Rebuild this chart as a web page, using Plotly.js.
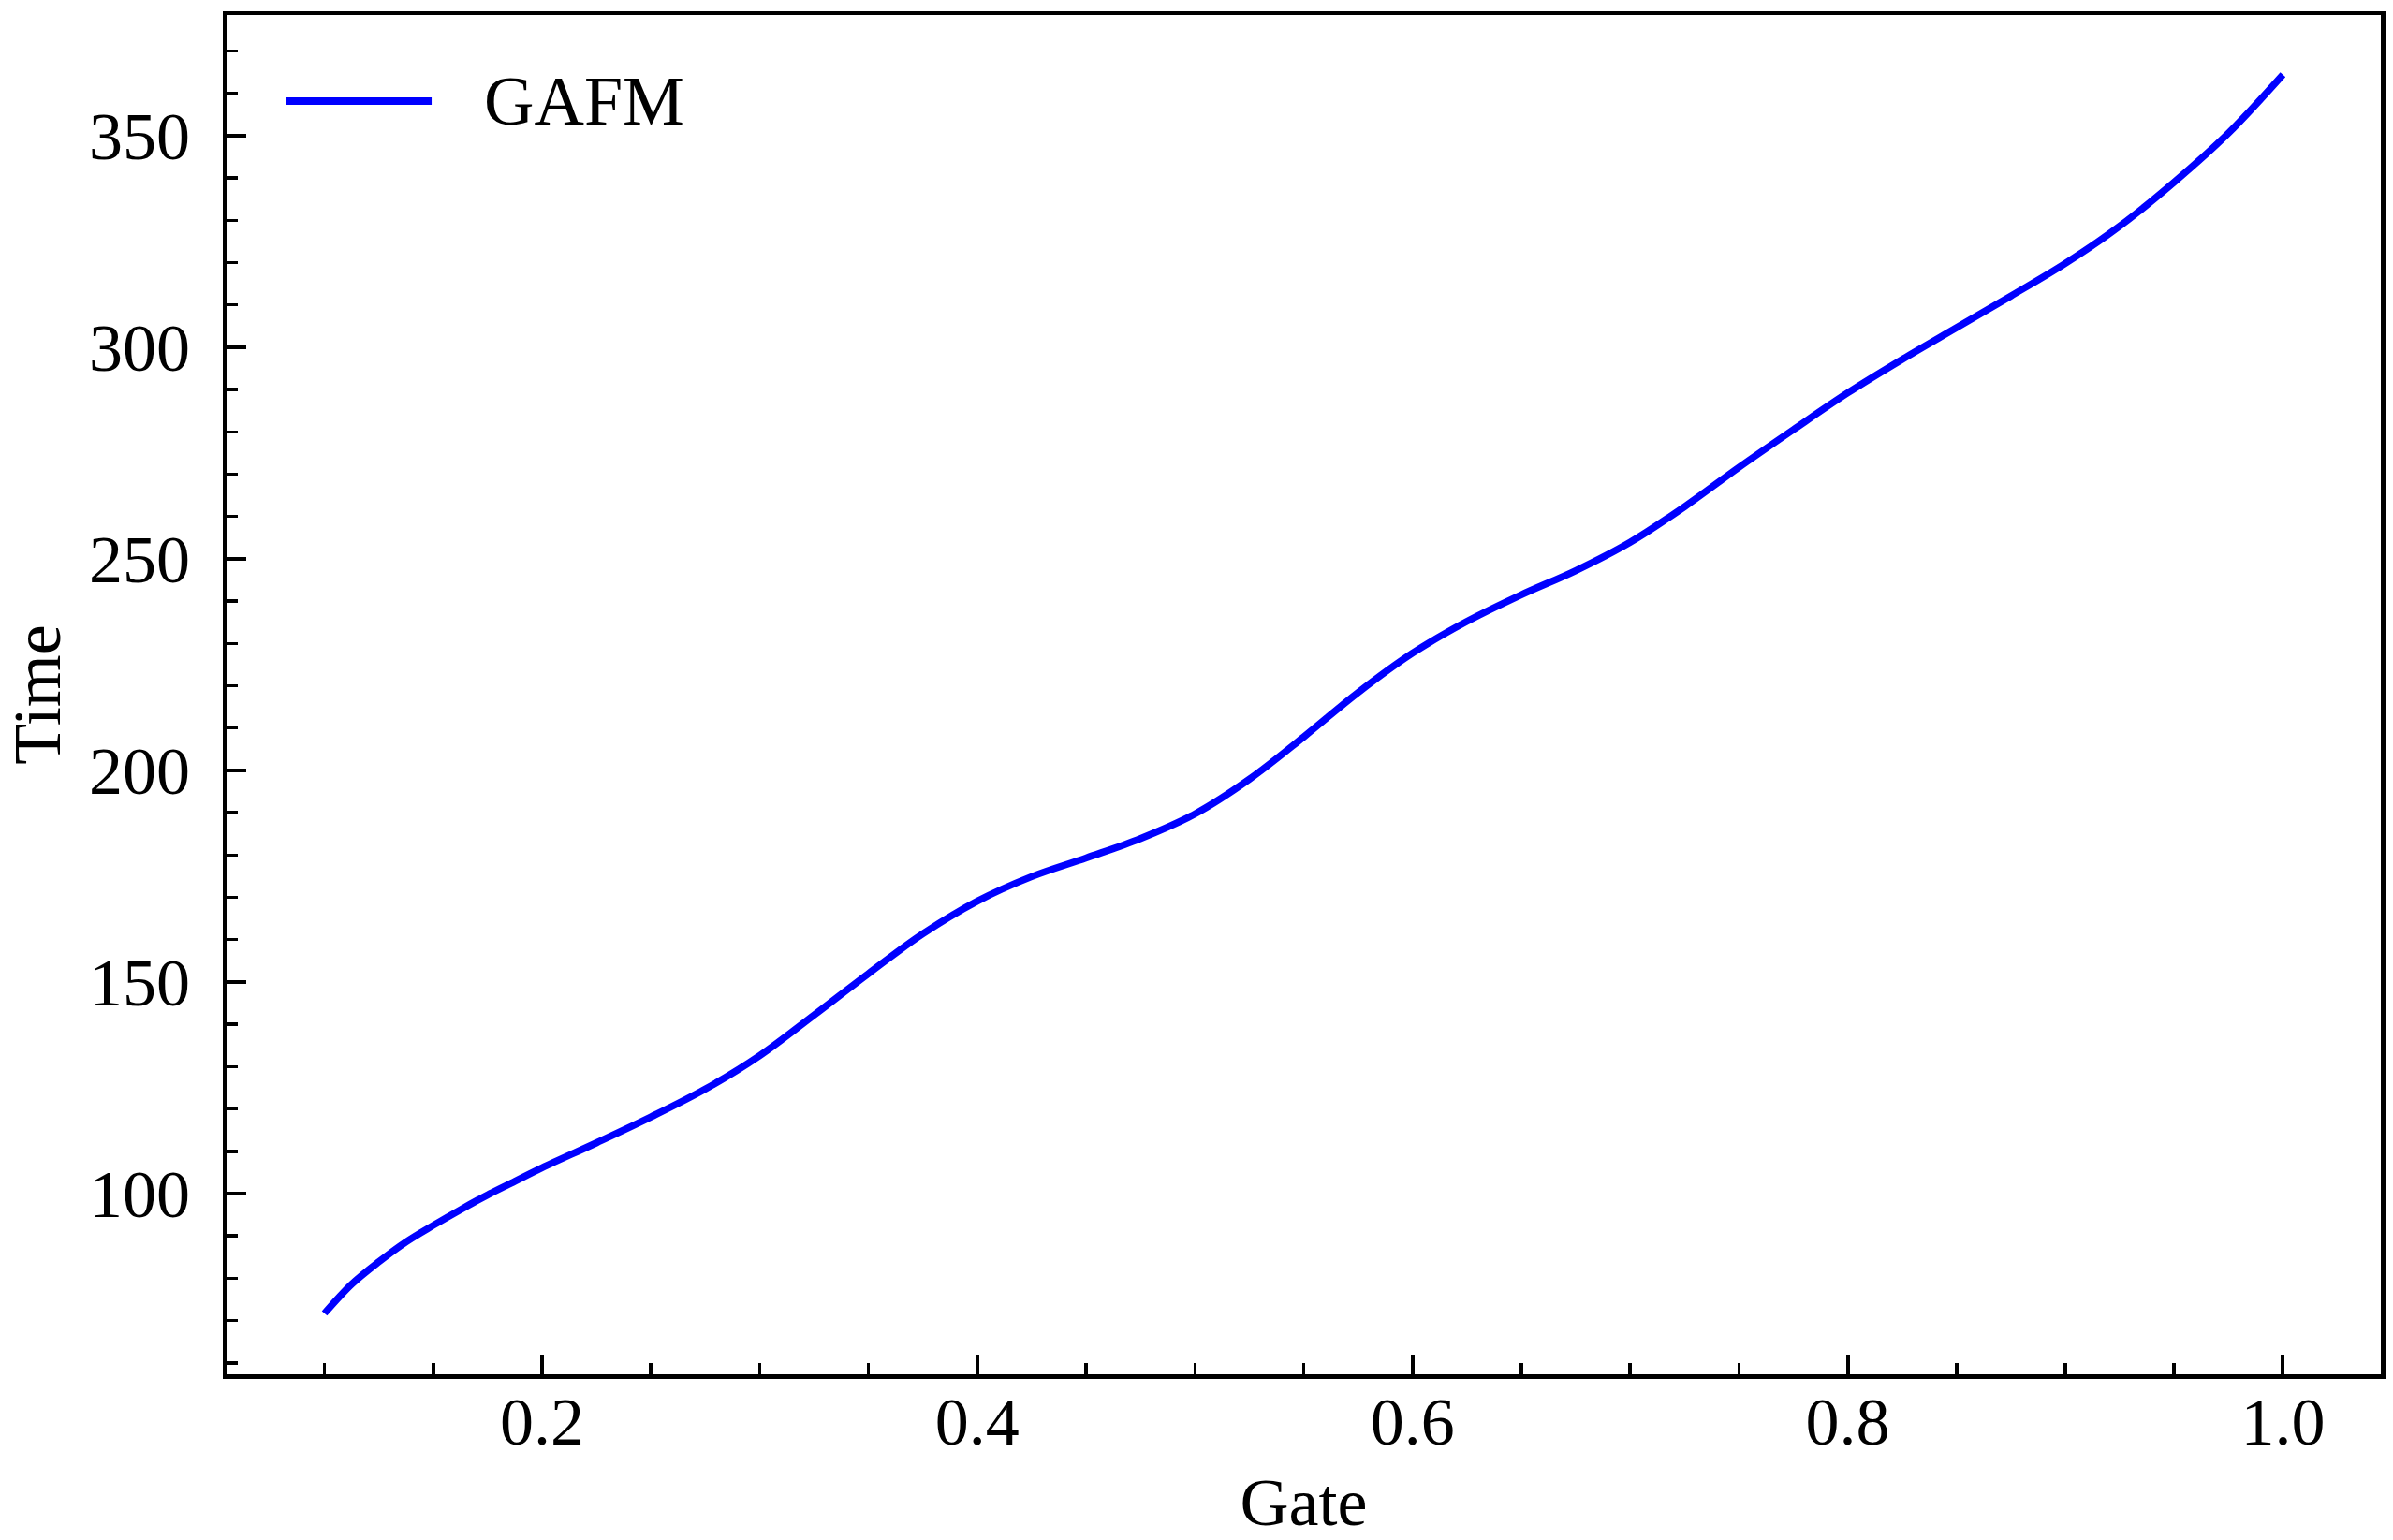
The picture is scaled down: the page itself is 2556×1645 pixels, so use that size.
<!DOCTYPE html>
<html>
<head>
<meta charset="utf-8">
<script src="https://cdn.plot.ly/plotly-3.0.1.min.js"></script>
<style>
  html, body { margin: 0; padding: 0; background: #ffffff; }
  #chart { width: 2556px; height: 1645px; }
</style>
</head>
<body>
<div id="chart"></div>
<script>
// Data
const gate = [0.1000, 0.1125, 0.1250, 0.1375, 0.1500, 0.1625, 0.1750, 0.1875, 0.2000,
              0.225, 0.250, 0.275, 0.300, 0.325,
              0.350, 0.375, 0.400, 0.425, 0.450, 0.475, 0.500, 0.525, 0.550, 0.575,
              0.600, 0.625, 0.650, 0.675, 0.700, 0.725, 0.750, 0.775, 0.800, 0.825,
              0.850, 0.875, 0.900, 0.925, 0.950, 0.975, 1.000];
const timeGAFM = [71.7, 78.6, 83.9, 88.6, 92.5, 96.2, 99.7, 102.9, 106.1,
                  112.0, 118.1, 124.7, 132.6, 142.2,
                  152.0, 161.4, 169.1, 174.9, 179.3, 183.9, 189.7, 197.9, 207.9, 218.4,
                  227.7, 235.2, 241.5, 247.2, 253.9, 262.3, 271.6, 280.5, 289.2, 297.1,
                  304.6, 312.1, 319.8, 328.6, 339.0, 350.6, 364.4];
const seriesName = "GAFM";
const xTickVals = [0.2, 0.4, 0.6, 0.8, 1.0];
const xTickText = ["0.2", "0.4", "0.6", "0.8", "1.0"];
const yTickVals = [100, 150, 200, 250, 300, 350];
const yTickText = ["100", "150", "200", "250", "300", "350"];
const xTitle = "Gate";
const yTitle = "Time";

const FONT = "Liberation Serif, Times New Roman, serif";
const LINE_COLOR = "#0000ff";

const trace = {
  x: gate,
  y: timeGAFM,
  type: "scatter",
  mode: "lines",
  name: seriesName,
  line: { color: LINE_COLOR, width: 7.5, shape: "spline", smoothing: 1 },
  showlegend: false,
  hoverinfo: "x+y"
};

const layout = {
  width: 2556,
  height: 1645,
  margin: { l: 242, r: 13, t: 16, b: 177, pad: 0 },
  paper_bgcolor: "#ffffff",
  plot_bgcolor: "#ffffff",
  font: { family: FONT, size: 72, color: "#000000" },
  showlegend: false,
  xaxis: {
    range: [0.055, 1.045],
    tickmode: "array",
    tickvals: xTickVals,
    ticktext: xTickText,
    ticks: "inside",
    ticklen: 21,
    tickwidth: 4,
    tickcolor: "#000000",
    ticklabelstandoff: -16,
    minor: { dtick: 0.05, tick0: 0, ticks: "inside", ticklen: 12, tickwidth: 3.5, tickcolor: "#000000", showgrid: false },
    showline: true,
    linewidth: 4.5,
    linecolor: "#000000",
    mirror: true,
    showgrid: false,
    zeroline: false,
    tickfont: { family: FONT, size: 72, color: "#000000" },
    title: { text: xTitle, font: { family: FONT, size: 72, color: "#000000" }, standoff: 30 },
    automargin: false
  },
  yaxis: {
    range: [57.3, 378.5],
    tickmode: "array",
    tickvals: yTickVals,
    ticktext: yTickText,
    ticks: "inside",
    ticklen: 21,
    tickwidth: 4,
    tickcolor: "#000000",
    ticklabelstandoff: 20,
    minor: { dtick: 10, tick0: 0, ticks: "inside", ticklen: 12, tickwidth: 3.5, tickcolor: "#000000", showgrid: false },
    showline: true,
    linewidth: 4.5,
    linecolor: "#000000",
    mirror: true,
    showgrid: false,
    zeroline: false,
    tickfont: { family: FONT, size: 72, color: "#000000" },
    title: { text: yTitle, font: { family: FONT, size: 72, color: "#000000" }, standoff: 14 },
    automargin: false
  },
  shapes: [
    {
      type: "line", xref: "paper", yref: "paper",
      x0: 0.0278, x1: 0.0952, y0: 0.9366, y1: 0.9366,
      line: { color: LINE_COLOR, width: 8 }
    }
  ],
  annotations: [
    {
      xref: "paper", yref: "paper",
      x: 0.1186, y: 0.9366,
      xanchor: "left", yanchor: "middle",
      text: seriesName,
      showarrow: false,
      font: { family: FONT, size: 74, color: "#000000" }
    }
  ]
};

Plotly.newPlot("chart", [trace], layout, { displayModeBar: false, staticPlot: true });
</script>
</body>
</html>
